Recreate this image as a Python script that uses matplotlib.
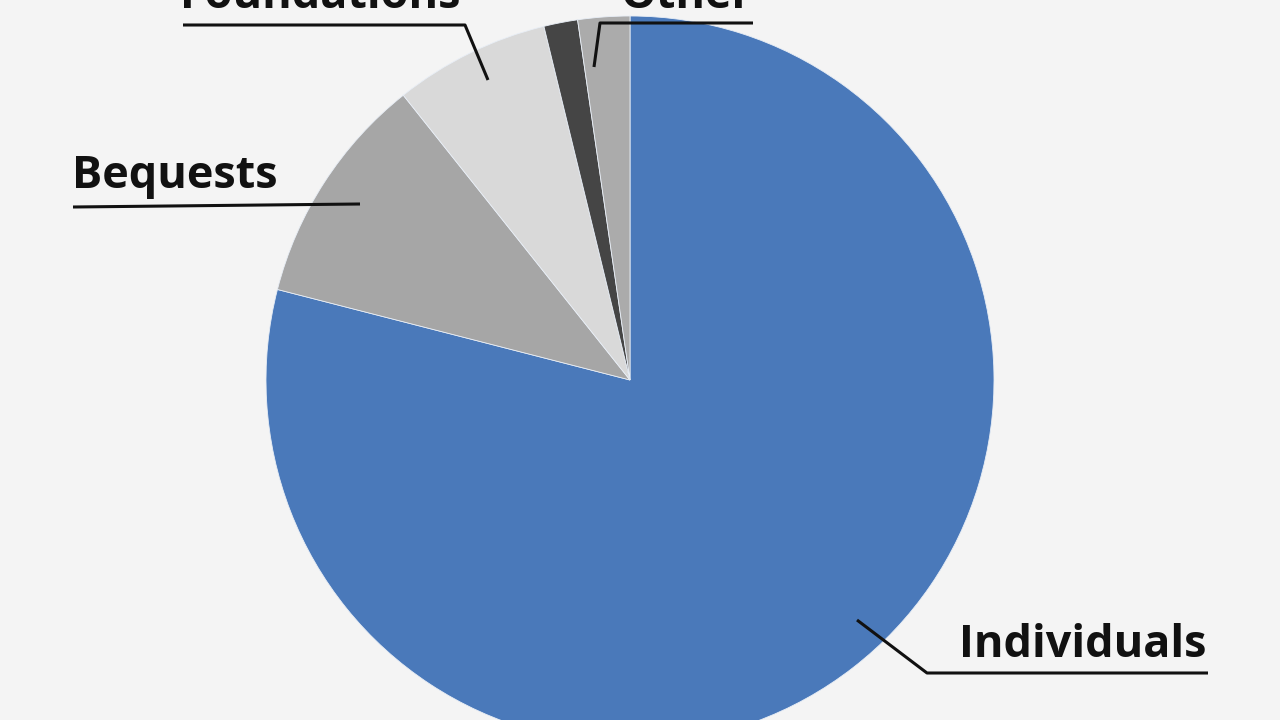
import matplotlib.pyplot as plt

# shares (percent), clockwise from 12 o'clock
sources = ['Individuals', 'Bequests', 'Foundations', '', 'Other']
shares = [79.0, 10.3, 6.9, 1.5, 2.3]
colors = ['#4a79ba', '#a6a6a6', '#d9d9d9', '#454545', '#ababab']

bg = '#f4f4f4'

fig = plt.figure(figsize=(12.8, 7.2), dpi=100, facecolor=bg)
ax = fig.add_axes([0, 0, 1, 1])
ax.set_facecolor(bg)

# pixel-style layout: image y measured from the top
H = 720
ax.pie(shares, colors=colors, startangle=90, counterclock=False,
       center=(630, H - 380), radius=364,
       wedgeprops=dict(edgecolor='#e8eef6', linewidth=0.6))

# pie() resets the limits, so set them afterwards
ax.set_xlim(0, 1280)
ax.set_ylim(0, 720)
ax.set_aspect('equal')
ax.axis('off')


def leader(points):
    xs = [p[0] for p in points]
    ys = [H - p[1] for p in points]
    ax.plot(xs, ys, color='#111111', lw=2.2, solid_capstyle='butt')


label_kw = dict(fontsize=32.4, fontweight='bold', family=['Open Sans', 'DejaVu Sans'],
                color='#111111', va='baseline', ha='left')

# Individuals
ax.text(959, H - 657, sources[0], **label_kw)
leader([(857, 620), (927, 673), (1208, 673)])

# Bequests
ax.text(72, H - 188, sources[1], **label_kw)
leader([(73, 207), (360, 204)])

# Foundations (clipped at top edge, as in the source)
ax.text(180, H - 8, sources[2], **label_kw)
leader([(488, 80), (465, 25), (183, 25)])

# Other (clipped at top edge, as in the source)
ax.text(620, H - 8, sources[4], **label_kw)
leader([(594, 67), (600, 23), (753, 23)])

fig.savefig('out.png', dpi=100, facecolor=bg)
